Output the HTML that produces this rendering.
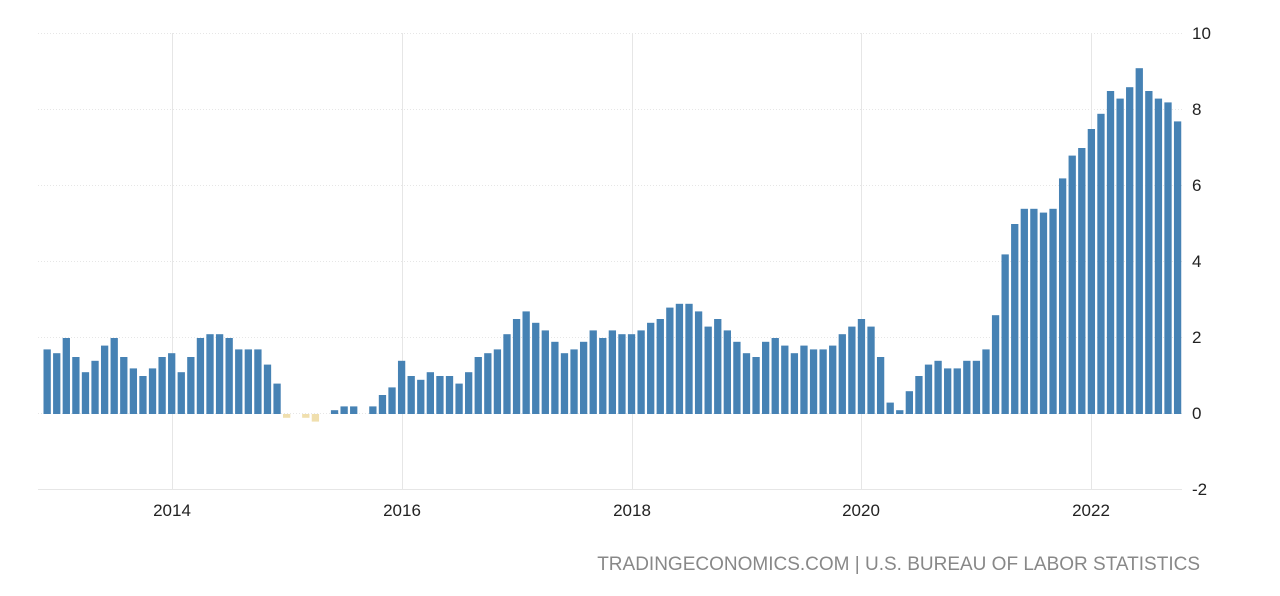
<!DOCTYPE html>
<html><head><meta charset="utf-8"><style>
html,body{margin:0;padding:0;background:#fff;}
svg{display:block;font-family:"Liberation Sans","DejaVu Sans",sans-serif;}
</style></head><body>
<svg id="c" width="1280" height="596" viewBox="0 0 1280 596" xmlns="http://www.w3.org/2000/svg">
<g stroke="#e6e6e6" stroke-width="1">
<line x1="38" y1="33.5" x2="1182" y2="33.5" stroke-dasharray="1,2"/>
<line x1="38" y1="109.5" x2="1182" y2="109.5" stroke-dasharray="1,2"/>
<line x1="38" y1="185.5" x2="1182" y2="185.5" stroke-dasharray="1,2"/>
<line x1="38" y1="261.5" x2="1182" y2="261.5" stroke-dasharray="1,2"/>
<line x1="38" y1="337.5" x2="1182" y2="337.5" stroke-dasharray="1,2"/>
<line x1="38" y1="413.5" x2="1182" y2="413.5" stroke-dasharray="1,2"/>
<line x1="38" y1="489.5" x2="1182" y2="489.5"/>
<line x1="172.5" y1="33" x2="172.5" y2="490"/>
<line x1="402.5" y1="33" x2="402.5" y2="490"/>
<line x1="632.5" y1="33" x2="632.5" y2="490"/>
<line x1="861.5" y1="33" x2="861.5" y2="490"/>
<line x1="1091.5" y1="33" x2="1091.5" y2="490"/>
</g>
<g id="bars"></g>
<g font-size="17" fill="#222">
<text x="1192" y="39">10</text>
<text x="1192" y="115">8</text>
<text x="1192" y="191">6</text>
<text x="1192" y="267">4</text>
<text x="1192" y="343">2</text>
<text x="1192" y="419">0</text>
<text x="1192" y="495">-2</text>
<g text-anchor="middle">
<text x="172" y="516">2014</text>
<text x="402" y="516">2016</text>
<text x="632" y="516">2018</text>
<text x="861" y="516">2020</text>
<text x="1091" y="516">2022</text>
</g>
</g>
<text x="1200" y="570" text-anchor="end" font-size="19" fill="#888">TRADINGECONOMICS.COM | U.S. BUREAU OF LABOR STATISTICS</text>
</svg>
<script>
var d=[1.7,1.6,2.0,1.5,1.1,1.4,1.8,2.0,1.5,1.2,1.0,1.2,1.5,
1.6,1.1,1.5,2.0,2.1,2.1,2.0,1.7,1.7,1.7,1.3,0.8,
-0.1,0.0,-0.1,-0.2,0.0,0.1,0.2,0.2,0.0,0.2,0.5,0.7,
1.4,1.0,0.9,1.1,1.0,1.0,0.8,1.1,1.5,1.6,1.7,2.1,
2.5,2.7,2.4,2.2,1.9,1.6,1.7,1.9,2.2,2.0,2.2,2.1,
2.1,2.2,2.4,2.5,2.8,2.9,2.9,2.7,2.3,2.5,2.2,1.9,
1.6,1.5,1.9,2.0,1.8,1.6,1.8,1.7,1.7,1.8,2.1,2.3,
2.5,2.3,1.5,0.3,0.1,0.6,1.0,1.3,1.4,1.2,1.2,1.4,
1.4,1.7,2.6,4.2,5.0,5.4,5.4,5.3,5.4,6.2,6.8,7.0,
7.5,7.9,8.5,8.3,8.6,9.1,8.5,8.3,8.2,7.7];
var g=document.getElementById('bars'),s='',z=414,u=38;
for(var i=0;i<d.length;i++){var x=43.5+i*9.58,v=d[i],h=Math.abs(v)*u;
if(v>=0){s+='<rect x="'+x.toFixed(2)+'" y="'+(z-h).toFixed(2)+'" width="7.3" height="'+h.toFixed(2)+'" fill="#4682b4"/>';}
else{s+='<rect x="'+x.toFixed(2)+'" y="'+z+'" width="7.3" height="'+Math.max(h,2).toFixed(2)+'" fill="#f0dfae"/>';}}
g.innerHTML=s;
</script>
</body></html>
